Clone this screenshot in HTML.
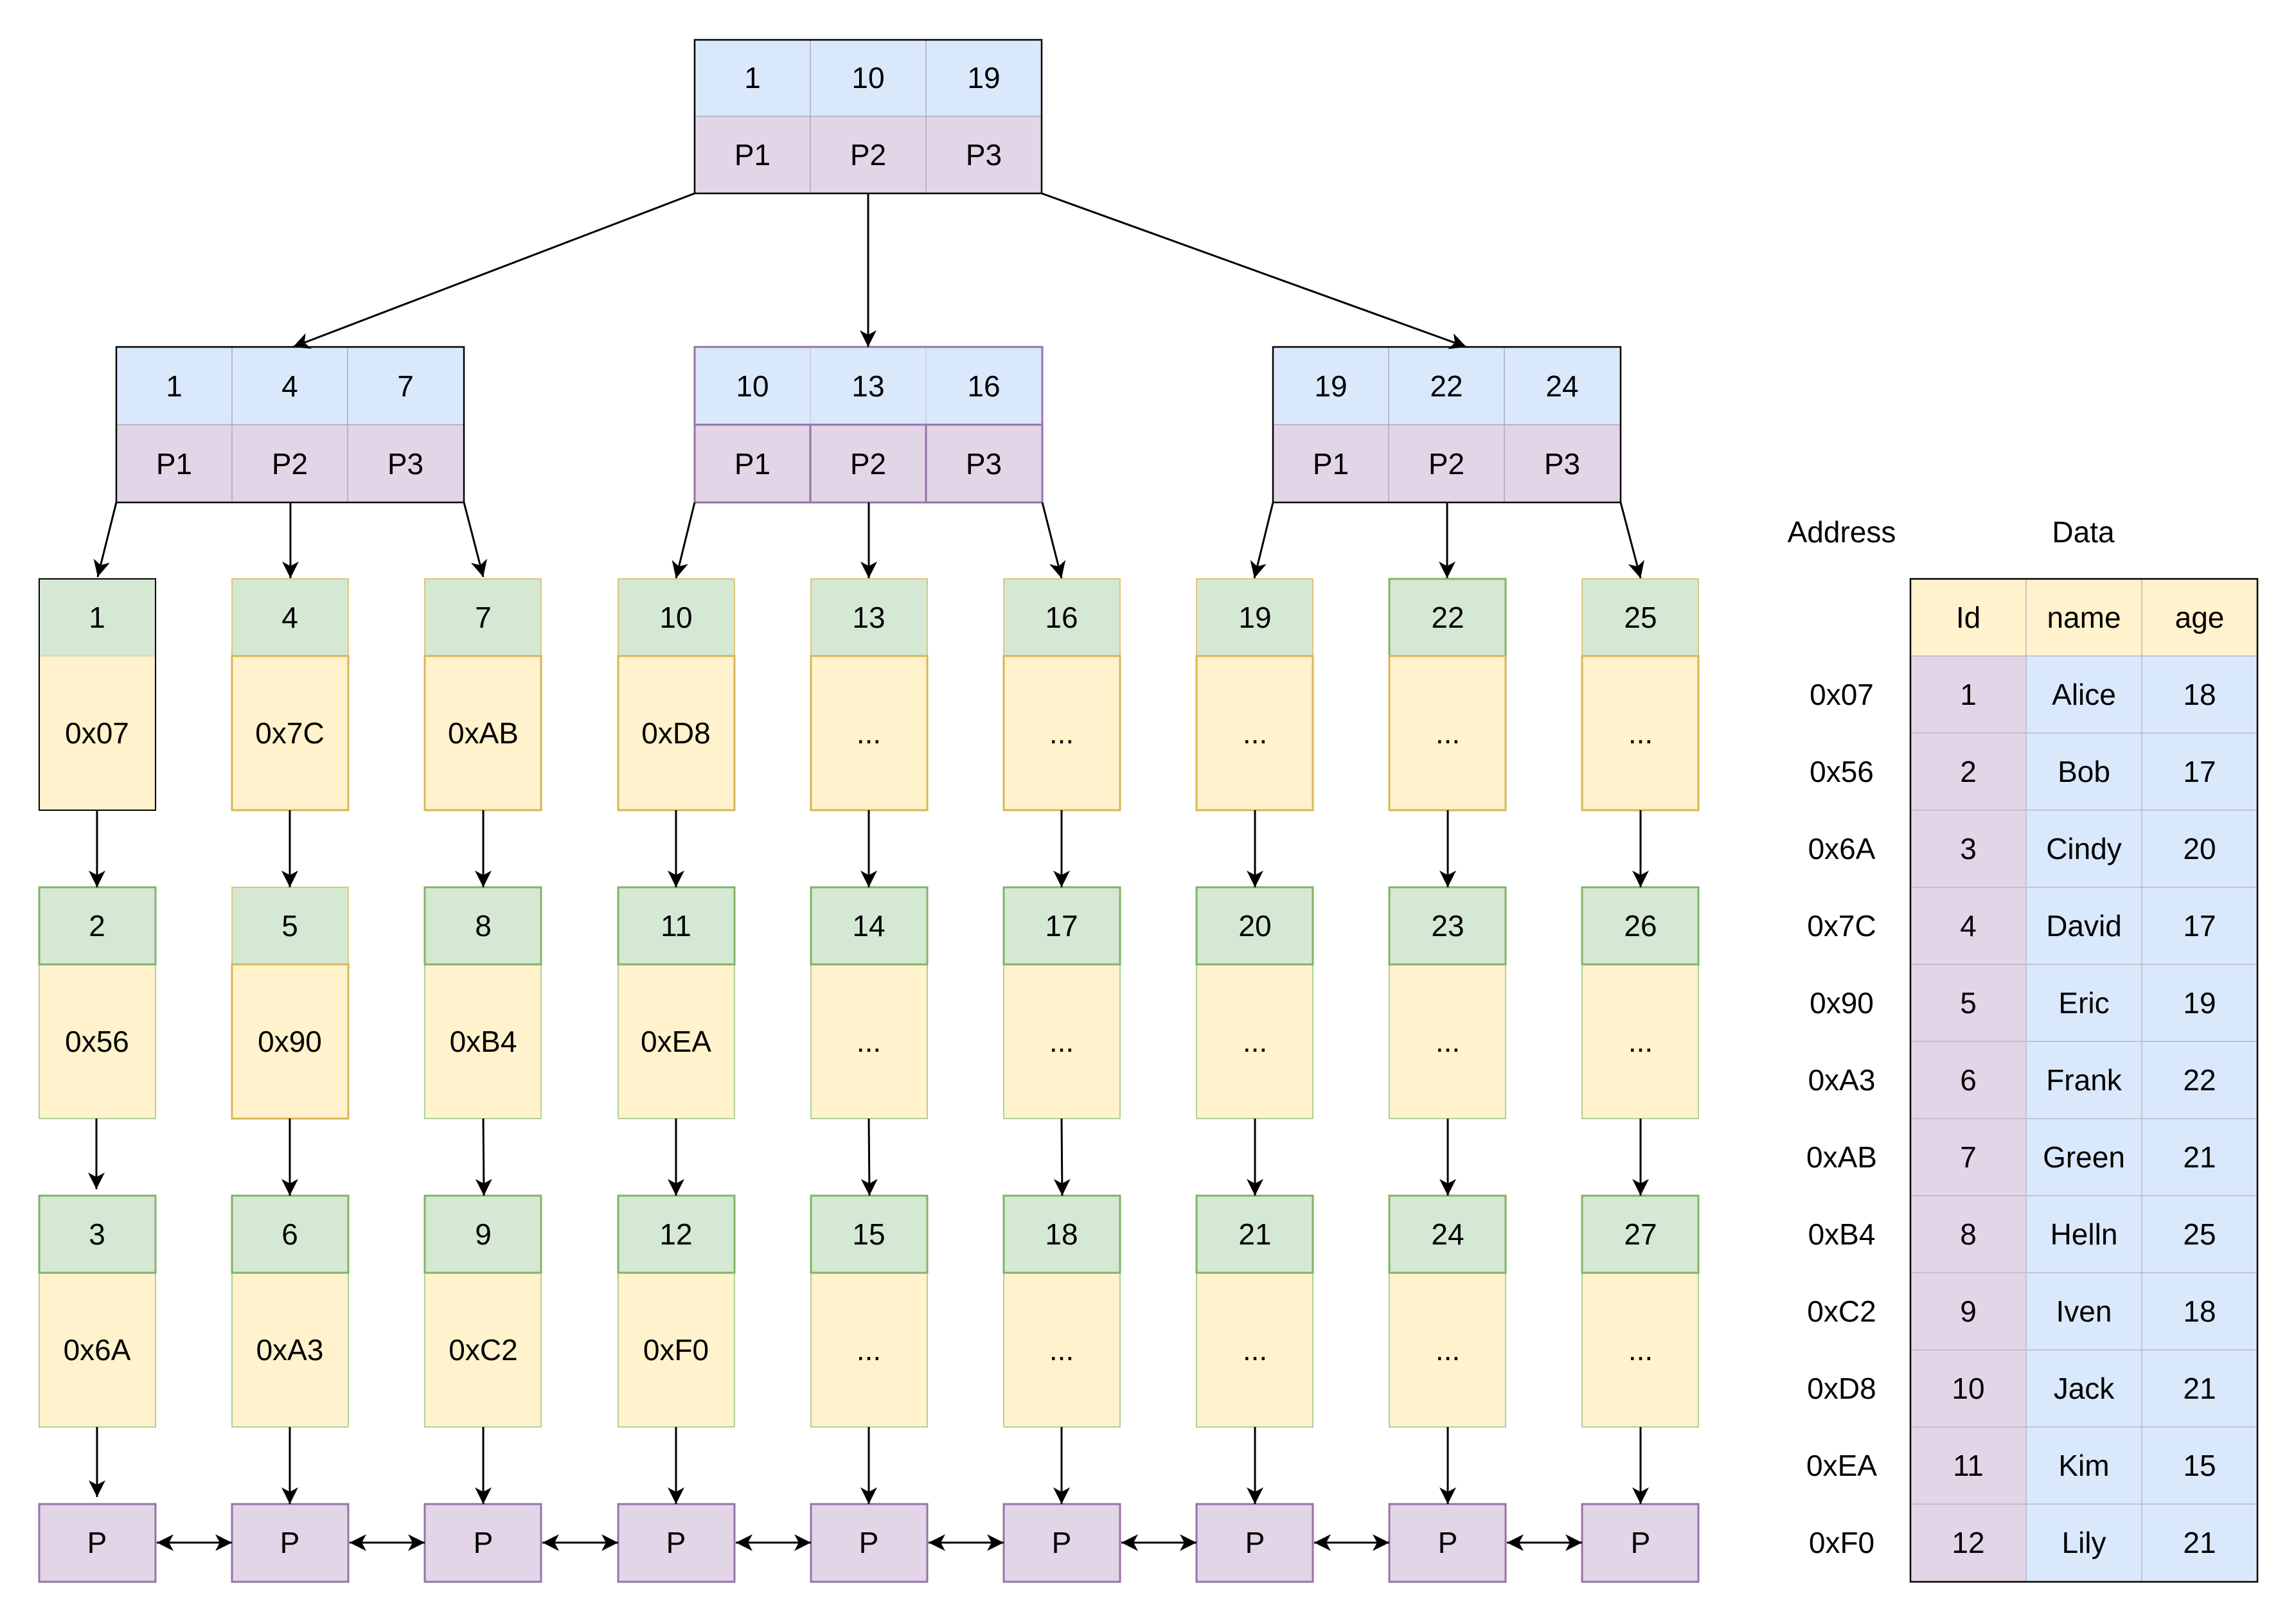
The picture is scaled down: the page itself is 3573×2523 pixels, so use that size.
<!DOCTYPE html>
<html><head><meta charset="utf-8"><style>
html,body{margin:0;padding:0;background:#fff}
svg{display:block}
text{font-family:"Liberation Sans",Arial,sans-serif;font-size:46px;text-anchor:middle;dominant-baseline:central;fill:#000}
</style></head><body>
<svg width="3573" height="2523" viewBox="0 0 3573 2523" xmlns="http://www.w3.org/2000/svg">
<defs>
<marker id="a" markerUnits="userSpaceOnUse" markerWidth="28" markerHeight="28" refX="26" refY="13" orient="auto-start-reverse" viewBox="0 0 28 26">
<path d="M0,0 L26,13 L0,26 L7,13 Z" fill="#000"/>
</marker>
</defs>

<!-- ROOT -->
<g>
<rect x="1081" y="62" width="540" height="119" fill="#dae8fc"/>
<rect x="1081" y="181" width="540" height="120" fill="#e1d5e7"/>
<line x1="1261" y1="62" x2="1261" y2="301" stroke="#aab" stroke-width="1.5"/>
<line x1="1441" y1="62" x2="1441" y2="301" stroke="#aab" stroke-width="1.5"/>
<line x1="1081" y1="181" x2="1621" y2="181" stroke="#aab" stroke-width="1.5"/>
<rect x="1081" y="62" width="540" height="239" fill="none" stroke="#000" stroke-width="2.5"/>
<text x="1171" y="121">1</text><text x="1351" y="121">10</text><text x="1531" y="121">19</text>
<text x="1171" y="241">P1</text><text x="1351" y="241">P2</text><text x="1531" y="241">P3</text>
</g>

<!-- LEVEL 2 LEFT -->
<g>
<rect x="181" y="540" width="541" height="121" fill="#dae8fc"/>
<rect x="181" y="661" width="541" height="121" fill="#e1d5e7"/>
<line x1="361" y1="540" x2="361" y2="782" stroke="#aab" stroke-width="1.5"/>
<line x1="541" y1="540" x2="541" y2="782" stroke="#aab" stroke-width="1.5"/>
<line x1="181" y1="661" x2="722" y2="661" stroke="#aab" stroke-width="1.5"/>
<rect x="181" y="540" width="541" height="242" fill="none" stroke="#000" stroke-width="2.5"/>
<text x="271" y="601">1</text><text x="451" y="601">4</text><text x="631" y="601">7</text>
<text x="271" y="722">P1</text><text x="451" y="722">P2</text><text x="631" y="722">P3</text>
</g>

<!-- LEVEL 2 MIDDLE -->
<g>
<rect x="1081" y="540" width="541" height="121" fill="#dae8fc"/>
<rect x="1081" y="661" width="541" height="121" fill="#e1d5e7"/>
<line x1="1261" y1="540" x2="1261" y2="661" stroke="#c8cce0" stroke-width="1.5"/>
<line x1="1441" y1="540" x2="1441" y2="661" stroke="#c8cce0" stroke-width="1.5"/>
<line x1="1261" y1="661" x2="1261" y2="782" stroke="#9673a6" stroke-width="3"/>
<line x1="1441" y1="661" x2="1441" y2="782" stroke="#9673a6" stroke-width="3"/>
<line x1="1081" y1="661" x2="1622" y2="661" stroke="#9673a6" stroke-width="3"/>
<rect x="1081" y="540" width="541" height="242" fill="none" stroke="#9673a6" stroke-width="3"/>
<text x="1171" y="601">10</text><text x="1351" y="601">13</text><text x="1531" y="601">16</text>
<text x="1171" y="722">P1</text><text x="1351" y="722">P2</text><text x="1531" y="722">P3</text>
</g>

<!-- LEVEL 2 RIGHT -->
<g>
<rect x="1981" y="540" width="541" height="121" fill="#dae8fc"/>
<rect x="1981" y="661" width="541" height="121" fill="#e1d5e7"/>
<line x1="2161" y1="540" x2="2161" y2="782" stroke="#aab" stroke-width="1.5"/>
<line x1="2341" y1="540" x2="2341" y2="782" stroke="#aab" stroke-width="1.5"/>
<line x1="1981" y1="661" x2="2522" y2="661" stroke="#aab" stroke-width="1.5"/>
<rect x="1981" y="540" width="541" height="242" fill="none" stroke="#000" stroke-width="2.5"/>
<text x="2071" y="601">19</text><text x="2251" y="601">22</text><text x="2431" y="601">24</text>
<text x="2071" y="722">P1</text><text x="2251" y="722">P2</text><text x="2431" y="722">P3</text>
</g>

<!-- ARROWS root -> level2 -->
<g stroke="#000" stroke-width="3" fill="none">
<line x1="1081" y1="301" x2="456" y2="540" marker-end="url(#a)"/>
<line x1="1351" y1="301" x2="1351" y2="540" marker-end="url(#a)"/>
<line x1="1621" y1="301" x2="2282" y2="540" marker-end="url(#a)"/>
<!-- level2 -> leaves -->
<line x1="181" y1="782" x2="152" y2="898" marker-end="url(#a)"/>
<line x1="452" y1="782" x2="452" y2="900" marker-end="url(#a)"/>
<line x1="722" y1="782" x2="752" y2="898" marker-end="url(#a)"/>
<line x1="1081" y1="782" x2="1052" y2="900" marker-end="url(#a)"/>
<line x1="1352" y1="782" x2="1352" y2="900" marker-end="url(#a)"/>
<line x1="1622" y1="782" x2="1652" y2="900" marker-end="url(#a)"/>
<line x1="1981" y1="782" x2="1952" y2="900" marker-end="url(#a)"/>
<line x1="2252" y1="782" x2="2252" y2="900" marker-end="url(#a)"/>
<line x1="2522" y1="782" x2="2553" y2="900" marker-end="url(#a)"/>
</g>

<!-- LEAVES row 1 -->
<g stroke-width="3">
<rect x="61" y="901" width="181" height="120" fill="#d5e8d4" stroke="none"/>
<rect x="61" y="1021" width="181" height="240" fill="#fff2cc" stroke="none"/>
<line x1="61" y1="1021" x2="242" y2="1021" stroke="#c9d7b6" stroke-width="1.5"/>
<rect x="61" y="901" width="181" height="360" fill="none" stroke="#000" stroke-width="2"/>

<rect x="361" y="901" width="181" height="120" fill="#d5e8d4" stroke="#d6b656" stroke-width="1.5"/>
<rect x="361" y="1021" width="181" height="240" fill="#fff2cc" stroke="#d6b656"/>
<rect x="661" y="901" width="181" height="120" fill="#d5e8d4" stroke="#d6b656" stroke-width="1.5"/>
<rect x="661" y="1021" width="181" height="240" fill="#fff2cc" stroke="#d6b656"/>
<rect x="962" y="901" width="181" height="120" fill="#d5e8d4" stroke="#d6b656" stroke-width="1.5"/>
<rect x="962" y="1021" width="181" height="240" fill="#fff2cc" stroke="#d6b656"/>
<rect x="1262" y="901" width="181" height="120" fill="#d5e8d4" stroke="#d6b656" stroke-width="1.5"/>
<rect x="1262" y="1021" width="181" height="240" fill="#fff2cc" stroke="#d6b656"/>
<rect x="1562" y="901" width="181" height="120" fill="#d5e8d4" stroke="#d6b656" stroke-width="1.5"/>
<rect x="1562" y="1021" width="181" height="240" fill="#fff2cc" stroke="#d6b656"/>
<rect x="1862" y="901" width="181" height="120" fill="#d5e8d4" stroke="#d6b656" stroke-width="1.5"/>
<rect x="1862" y="1021" width="181" height="240" fill="#fff2cc" stroke="#d6b656"/>
<rect x="2162" y="901" width="181" height="120" fill="#d5e8d4" stroke="#82b366"/>
<rect x="2162" y="1021" width="181" height="240" fill="#fff2cc" stroke="#d6b656"/>
<rect x="2462" y="901" width="181" height="120" fill="#d5e8d4" stroke="#d6b656" stroke-width="1.5"/>
<rect x="2462" y="1021" width="181" height="240" fill="#fff2cc" stroke="#d6b656"/>
</g>
<g>
<text x="151" y="961">1</text><text x="451" y="961">4</text><text x="752" y="961">7</text><text x="1052" y="961">10</text><text x="1352" y="961">13</text><text x="1652" y="961">16</text><text x="1953" y="961">19</text><text x="2253" y="961">22</text><text x="2553" y="961">25</text>
<text x="151" y="1141">0x07</text><text x="451" y="1141">0x7C</text><text x="752" y="1141">0xAB</text><text x="1052" y="1141">0xD8</text><text x="1352" y="1141">...</text><text x="1652" y="1141">...</text><text x="1953" y="1141">...</text><text x="2253" y="1141">...</text><text x="2553" y="1141">...</text>
</g>

<!-- LEAVES row 2 -->
<g stroke-width="3">
<rect x="61" y="1500" width="181" height="241" fill="#fff2cc" stroke="#97c47f" stroke-width="1.5"/>
<rect x="61" y="1381" width="181" height="120" fill="#d5e8d4" stroke="#82b366"/>
<rect x="361" y="1381" width="181" height="120" fill="#d5e8d4" stroke="#d6b656" stroke-width="1.5"/>
<rect x="361" y="1501" width="181" height="240" fill="#fff2cc" stroke="#d6b656"/>
<rect x="661" y="1500" width="181" height="241" fill="#fff2cc" stroke="#97c47f" stroke-width="1.5"/>
<rect x="661" y="1381" width="181" height="120" fill="#d5e8d4" stroke="#82b366"/>
<rect x="962" y="1500" width="181" height="241" fill="#fff2cc" stroke="#97c47f" stroke-width="1.5"/>
<rect x="962" y="1381" width="181" height="120" fill="#d5e8d4" stroke="#82b366"/>
<rect x="1262" y="1500" width="181" height="241" fill="#fff2cc" stroke="#97c47f" stroke-width="1.5"/>
<rect x="1262" y="1381" width="181" height="120" fill="#d5e8d4" stroke="#82b366"/>
<rect x="1562" y="1500" width="181" height="241" fill="#fff2cc" stroke="#97c47f" stroke-width="1.5"/>
<rect x="1562" y="1381" width="181" height="120" fill="#d5e8d4" stroke="#82b366"/>
<rect x="1862" y="1500" width="181" height="241" fill="#fff2cc" stroke="#97c47f" stroke-width="1.5"/>
<rect x="1862" y="1381" width="181" height="120" fill="#d5e8d4" stroke="#82b366"/>
<rect x="2162" y="1500" width="181" height="241" fill="#fff2cc" stroke="#97c47f" stroke-width="1.5"/>
<rect x="2162" y="1381" width="181" height="120" fill="#d5e8d4" stroke="#82b366"/>
<rect x="2462" y="1500" width="181" height="241" fill="#fff2cc" stroke="#97c47f" stroke-width="1.5"/>
<rect x="2462" y="1381" width="181" height="120" fill="#d5e8d4" stroke="#82b366"/>
</g>
<g>
<text x="151" y="1441">2</text><text x="451" y="1441">5</text><text x="752" y="1441">8</text><text x="1052" y="1441">11</text><text x="1352" y="1441">14</text><text x="1652" y="1441">17</text><text x="1953" y="1441">20</text><text x="2253" y="1441">23</text><text x="2553" y="1441">26</text>
<text x="151" y="1621">0x56</text><text x="451" y="1621">0x90</text><text x="752" y="1621">0xB4</text><text x="1052" y="1621">0xEA</text><text x="1352" y="1621">...</text><text x="1652" y="1621">...</text><text x="1953" y="1621">...</text><text x="2253" y="1621">...</text><text x="2553" y="1621">...</text>
</g>

<!-- LEAVES row 3 -->
<g stroke-width="3">
<rect x="61" y="1981" width="181" height="240" fill="#fff2cc" stroke="#97c47f" stroke-width="1.5"/>
<rect x="61" y="1861" width="181" height="120" fill="#d5e8d4" stroke="#82b366"/>
<rect x="361" y="1981" width="181" height="240" fill="#fff2cc" stroke="#97c47f" stroke-width="1.5"/>
<rect x="361" y="1861" width="181" height="120" fill="#d5e8d4" stroke="#82b366"/>
<rect x="661" y="1981" width="181" height="240" fill="#fff2cc" stroke="#97c47f" stroke-width="1.5"/>
<rect x="661" y="1861" width="181" height="120" fill="#d5e8d4" stroke="#82b366"/>
<rect x="962" y="1981" width="181" height="240" fill="#fff2cc" stroke="#97c47f" stroke-width="1.5"/>
<rect x="962" y="1861" width="181" height="120" fill="#d5e8d4" stroke="#82b366"/>
<rect x="1262" y="1981" width="181" height="240" fill="#fff2cc" stroke="#97c47f" stroke-width="1.5"/>
<rect x="1262" y="1861" width="181" height="120" fill="#d5e8d4" stroke="#82b366"/>
<rect x="1562" y="1981" width="181" height="240" fill="#fff2cc" stroke="#97c47f" stroke-width="1.5"/>
<rect x="1562" y="1861" width="181" height="120" fill="#d5e8d4" stroke="#82b366"/>
<rect x="1862" y="1981" width="181" height="240" fill="#fff2cc" stroke="#97c47f" stroke-width="1.5"/>
<rect x="1862" y="1861" width="181" height="120" fill="#d5e8d4" stroke="#82b366"/>
<rect x="2162" y="1981" width="181" height="240" fill="#fff2cc" stroke="#97c47f" stroke-width="1.5"/>
<rect x="2162" y="1861" width="181" height="120" fill="#d5e8d4" stroke="#82b366"/>
<rect x="2462" y="1981" width="181" height="240" fill="#fff2cc" stroke="#97c47f" stroke-width="1.5"/>
<rect x="2462" y="1861" width="181" height="120" fill="#d5e8d4" stroke="#82b366"/>
</g>
<g>
<text x="151" y="1921">3</text><text x="451" y="1921">6</text><text x="752" y="1921">9</text><text x="1052" y="1921">12</text><text x="1352" y="1921">15</text><text x="1652" y="1921">18</text><text x="1953" y="1921">21</text><text x="2253" y="1921">24</text><text x="2553" y="1921">27</text>
<text x="151" y="2101">0x6A</text><text x="451" y="2101">0xA3</text><text x="752" y="2101">0xC2</text><text x="1052" y="2101">0xF0</text><text x="1352" y="2101">...</text><text x="1652" y="2101">...</text><text x="1953" y="2101">...</text><text x="2253" y="2101">...</text><text x="2553" y="2101">...</text>
</g>

<!-- P boxes -->
<g fill="#e1d5e7" stroke="#9673a6" stroke-width="3">
<rect x="61" y="2341" width="181" height="121"/>
<rect x="361" y="2341" width="181" height="121"/>
<rect x="661" y="2341" width="181" height="121"/>
<rect x="962" y="2341" width="181" height="121"/>
<rect x="1262" y="2341" width="181" height="121"/>
<rect x="1562" y="2341" width="181" height="121"/>
<rect x="1862" y="2341" width="181" height="121"/>
<rect x="2162" y="2341" width="181" height="121"/>
<rect x="2462" y="2341" width="181" height="121"/>
</g>
<g>
<text x="151" y="2401">P</text><text x="451" y="2401">P</text><text x="752" y="2401">P</text><text x="1052" y="2401">P</text><text x="1352" y="2401">P</text><text x="1652" y="2401">P</text><text x="1953" y="2401">P</text><text x="2253" y="2401">P</text><text x="2553" y="2401">P</text>
</g>

<!-- vertical arrows -->
<g stroke="#000" stroke-width="3" fill="none">
<line x1="151" y1="1261" x2="151" y2="1381" marker-end="url(#a)"/>
<line x1="451" y1="1261" x2="451" y2="1381" marker-end="url(#a)"/>
<line x1="752" y1="1261" x2="752" y2="1381" marker-end="url(#a)"/>
<line x1="1052" y1="1261" x2="1052" y2="1381" marker-end="url(#a)"/>
<line x1="1352" y1="1261" x2="1352" y2="1381" marker-end="url(#a)"/>
<line x1="1652" y1="1261" x2="1652" y2="1381" marker-end="url(#a)"/>
<line x1="1953" y1="1261" x2="1953" y2="1381" marker-end="url(#a)"/>
<line x1="2253" y1="1261" x2="2253" y2="1381" marker-end="url(#a)"/>
<line x1="2553" y1="1261" x2="2553" y2="1381" marker-end="url(#a)"/>

<line x1="150" y1="1741" x2="150" y2="1851" marker-end="url(#a)"/>
<line x1="451" y1="1741" x2="451" y2="1861" marker-end="url(#a)"/>
<line x1="752" y1="1741" x2="753" y2="1861" marker-end="url(#a)"/>
<line x1="1052" y1="1741" x2="1052" y2="1861" marker-end="url(#a)"/>
<line x1="1352" y1="1741" x2="1353" y2="1861" marker-end="url(#a)"/>
<line x1="1652" y1="1741" x2="1653" y2="1861" marker-end="url(#a)"/>
<line x1="1953" y1="1741" x2="1953" y2="1861" marker-end="url(#a)"/>
<line x1="2253" y1="1741" x2="2253" y2="1861" marker-end="url(#a)"/>
<line x1="2553" y1="1741" x2="2553" y2="1861" marker-end="url(#a)"/>

<line x1="151" y1="2221" x2="151" y2="2330" marker-end="url(#a)"/>
<line x1="451" y1="2221" x2="451" y2="2341" marker-end="url(#a)"/>
<line x1="752" y1="2221" x2="752" y2="2341" marker-end="url(#a)"/>
<line x1="1052" y1="2221" x2="1052" y2="2341" marker-end="url(#a)"/>
<line x1="1352" y1="2221" x2="1352" y2="2341" marker-end="url(#a)"/>
<line x1="1652" y1="2221" x2="1652" y2="2341" marker-end="url(#a)"/>
<line x1="1953" y1="2221" x2="1953" y2="2341" marker-end="url(#a)"/>
<line x1="2253" y1="2221" x2="2253" y2="2341" marker-end="url(#a)"/>
<line x1="2553" y1="2221" x2="2553" y2="2341" marker-end="url(#a)"/>

<!-- horizontal double arrows -->
<line x1="244" y1="2401" x2="361" y2="2401" marker-start="url(#a)" marker-end="url(#a)"/>
<line x1="544" y1="2401" x2="661" y2="2401" marker-start="url(#a)" marker-end="url(#a)"/>
<line x1="844" y1="2401" x2="962" y2="2401" marker-start="url(#a)" marker-end="url(#a)"/>
<line x1="1145" y1="2401" x2="1262" y2="2401" marker-start="url(#a)" marker-end="url(#a)"/>
<line x1="1445" y1="2401" x2="1562" y2="2401" marker-start="url(#a)" marker-end="url(#a)"/>
<line x1="1745" y1="2401" x2="1862" y2="2401" marker-start="url(#a)" marker-end="url(#a)"/>
<line x1="2045" y1="2401" x2="2162" y2="2401" marker-start="url(#a)" marker-end="url(#a)"/>
<line x1="2345" y1="2401" x2="2462" y2="2401" marker-start="url(#a)" marker-end="url(#a)"/>
</g>

<!-- TABLE -->
<text x="2866" y="828">Address</text>
<text x="3242" y="828">Data</text>
<g>
<rect x="2973" y="901" width="540" height="120" fill="#fff2cc"/>
<rect x="2973" y="1021" width="180" height="1441" fill="#e1d5e7"/>
<rect x="3153" y="1021" width="360" height="1441" fill="#dae8fc"/>
<g stroke="#b8b8c0" stroke-width="1.5">
<line x1="3153" y1="901" x2="3153" y2="2462"/>
<line x1="3333" y1="901" x2="3333" y2="2462"/>
<line x1="2973" y1="1021" x2="3513" y2="1021"/>
<line x1="2973" y1="1141" x2="3513" y2="1141"/>
<line x1="2973" y1="1261" x2="3513" y2="1261"/>
<line x1="2973" y1="1381" x2="3513" y2="1381"/>
<line x1="2973" y1="1501" x2="3513" y2="1501"/>
<line x1="2973" y1="1621" x2="3513" y2="1621"/>
<line x1="2973" y1="1741" x2="3513" y2="1741"/>
<line x1="2973" y1="1861" x2="3513" y2="1861"/>
<line x1="2973" y1="1981" x2="3513" y2="1981"/>
<line x1="2973" y1="2101" x2="3513" y2="2101"/>
<line x1="2973" y1="2221" x2="3513" y2="2221"/>
<line x1="2973" y1="2341" x2="3513" y2="2341"/>
</g>
<rect x="2973" y="901" width="540" height="1561" fill="none" stroke="#000" stroke-width="2.5"/>
</g>
<g>
<text x="3063" y="961">Id</text><text x="3243" y="961">name</text><text x="3423" y="961">age</text>

<text x="2866" y="1081">0x07</text><text x="3063" y="1081">1</text><text x="3243" y="1081">Alice</text><text x="3423" y="1081">18</text>
<text x="2866" y="1201">0x56</text><text x="3063" y="1201">2</text><text x="3243" y="1201">Bob</text><text x="3423" y="1201">17</text>
<text x="2866" y="1321">0x6A</text><text x="3063" y="1321">3</text><text x="3243" y="1321">Cindy</text><text x="3423" y="1321">20</text>
<text x="2866" y="1441">0x7C</text><text x="3063" y="1441">4</text><text x="3243" y="1441">David</text><text x="3423" y="1441">17</text>
<text x="2866" y="1561">0x90</text><text x="3063" y="1561">5</text><text x="3243" y="1561">Eric</text><text x="3423" y="1561">19</text>
<text x="2866" y="1681">0xA3</text><text x="3063" y="1681">6</text><text x="3243" y="1681">Frank</text><text x="3423" y="1681">22</text>
<text x="2866" y="1801">0xAB</text><text x="3063" y="1801">7</text><text x="3243" y="1801">Green</text><text x="3423" y="1801">21</text>
<text x="2866" y="1921">0xB4</text><text x="3063" y="1921">8</text><text x="3243" y="1921">Helln</text><text x="3423" y="1921">25</text>
<text x="2866" y="2041">0xC2</text><text x="3063" y="2041">9</text><text x="3243" y="2041">Iven</text><text x="3423" y="2041">18</text>
<text x="2866" y="2161">0xD8</text><text x="3063" y="2161">10</text><text x="3243" y="2161">Jack</text><text x="3423" y="2161">21</text>
<text x="2866" y="2281">0xEA</text><text x="3063" y="2281">11</text><text x="3243" y="2281">Kim</text><text x="3423" y="2281">15</text>
<text x="2866" y="2401">0xF0</text><text x="3063" y="2401">12</text><text x="3243" y="2401">Lily</text><text x="3423" y="2401">21</text>
</g>
</svg>
</body></html>
